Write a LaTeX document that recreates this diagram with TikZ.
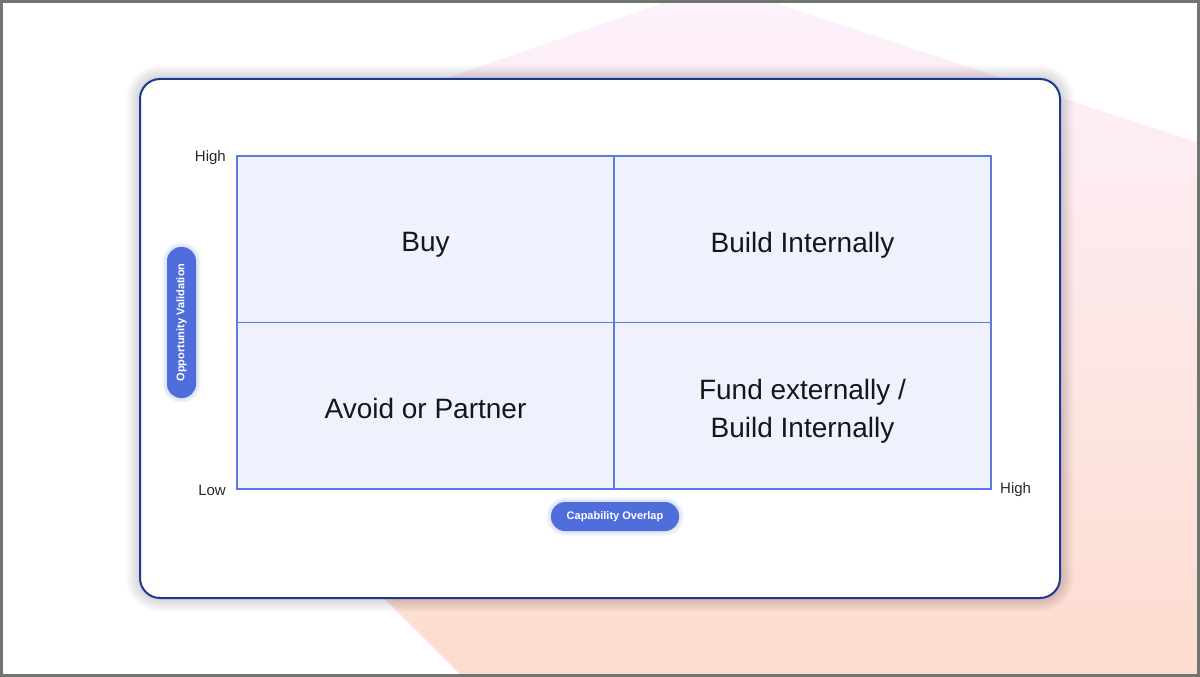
\documentclass[tikz,border=0pt]{standalone}
\usepackage{fontspec}
\setmainfont{Liberation Sans}
\definecolor{cardblue}{RGB}{28,58,145}
\definecolor{gridblue}{RGB}{92,122,225}
\definecolor{cellfill}{RGB}{239,241,253}
\definecolor{pillblue}{RGB}{79,110,220}
\definecolor{txt}{RGB}{22,22,22}
\definecolor{axistxt}{RGB}{40,40,40}
\definecolor{framegray}{RGB}{112,117,111}
\definecolor{bgpink}{RGB}{253,241,252}
\definecolor{bgpeach}{RGB}{253,220,207}
\tikzset{
  cell/.style={draw=gridblue, line width=1.5pt, fill=cellfill, minimum width=377pt, minimum height=166.5pt, inner sep=0pt},
  celltext/.style={text=txt, align=center, inner sep=0pt, font=\fontsize{28}{38}\selectfont},
  axislbl/.style={text=axistxt, inner sep=0pt, font=\fontsize{15}{18}\selectfont},
  pill/.style={fill=pillblue, text=white, rounded corners=14pt, inner sep=0pt, font=\fontsize{11}{13}\selectfont\bfseries},
  cardbox/.style={draw=cardblue, line width=2pt, fill=white, rounded corners=20pt, minimum width=920pt, minimum height=519pt, inner sep=0pt}
}
\begin{document}
\begin{tikzpicture}[x=1pt,y=-1pt]
\useasboundingbox (0,0) rectangle (1200,677);
\fill[white] (0,0) rectangle (1200,677);
% background shape
\shade[top color=bgpink, bottom color=bgpeach] (663,3) -- (775,3) -- (1205,145) -- (1205,680) -- (466,680) -- (250,464) -- (250,146) -- cycle;
% card shadow
\foreach \i in {1,...,14} {
  \fill[black, opacity=0.011, rounded corners=20+\i] (140-\i,79-\i) rectangle (1060+\i,598+\i);
}
\node[cardbox] (card) at (600,338.5) {};
% grid
\node[cell] (buy) at (425.5,239.25) {};
\node[cell] (build) at (802.5,239.25) {};
\node[cell] (avoid) at (425.5,405.75) {};
\node[cell] (fund) at (802.5,405.75) {};
\node[celltext] (buyt) at (425.5,245) {Buy};
\node[celltext] (buildt) at (802.5,245) {Build Internally};
\node[celltext] (avoidt) at (425.5,408.5) {Avoid or Partner};
\node[celltext] (fundt) at (802.5,411) {Fund externally /\\Build Internally};
% axis labels
\node[axislbl, anchor=east] (yhigh) at (226,157.5) {High};
\node[axislbl, anchor=east] (ylow) at (226,490) {Low};
\node[axislbl, anchor=west] (xhigh) at (1000,490) {High};
% pill glows
\foreach \i in {1,...,5} {
  \fill[pillblue, opacity=0.04, rounded corners=14+\i] (167-\i,247-\i) rectangle (196+\i,398+\i);
  \fill[pillblue, opacity=0.04, rounded corners=14+\i] (551-\i,502-\i) rectangle (679+\i,531+\i);
}
\node[pill, rotate=90, minimum width=151pt, minimum height=29pt] (ylab) at (181.5,322.5) {Opportunity Validation};
\node[pill, minimum width=128pt, minimum height=29pt] (xlab) at (615,516.5) {Capability Overlap};
% frame
\draw[framegray, line width=3pt] (1.5,1.5) rectangle (1198.5,675.5);
\end{tikzpicture}
\end{document}
